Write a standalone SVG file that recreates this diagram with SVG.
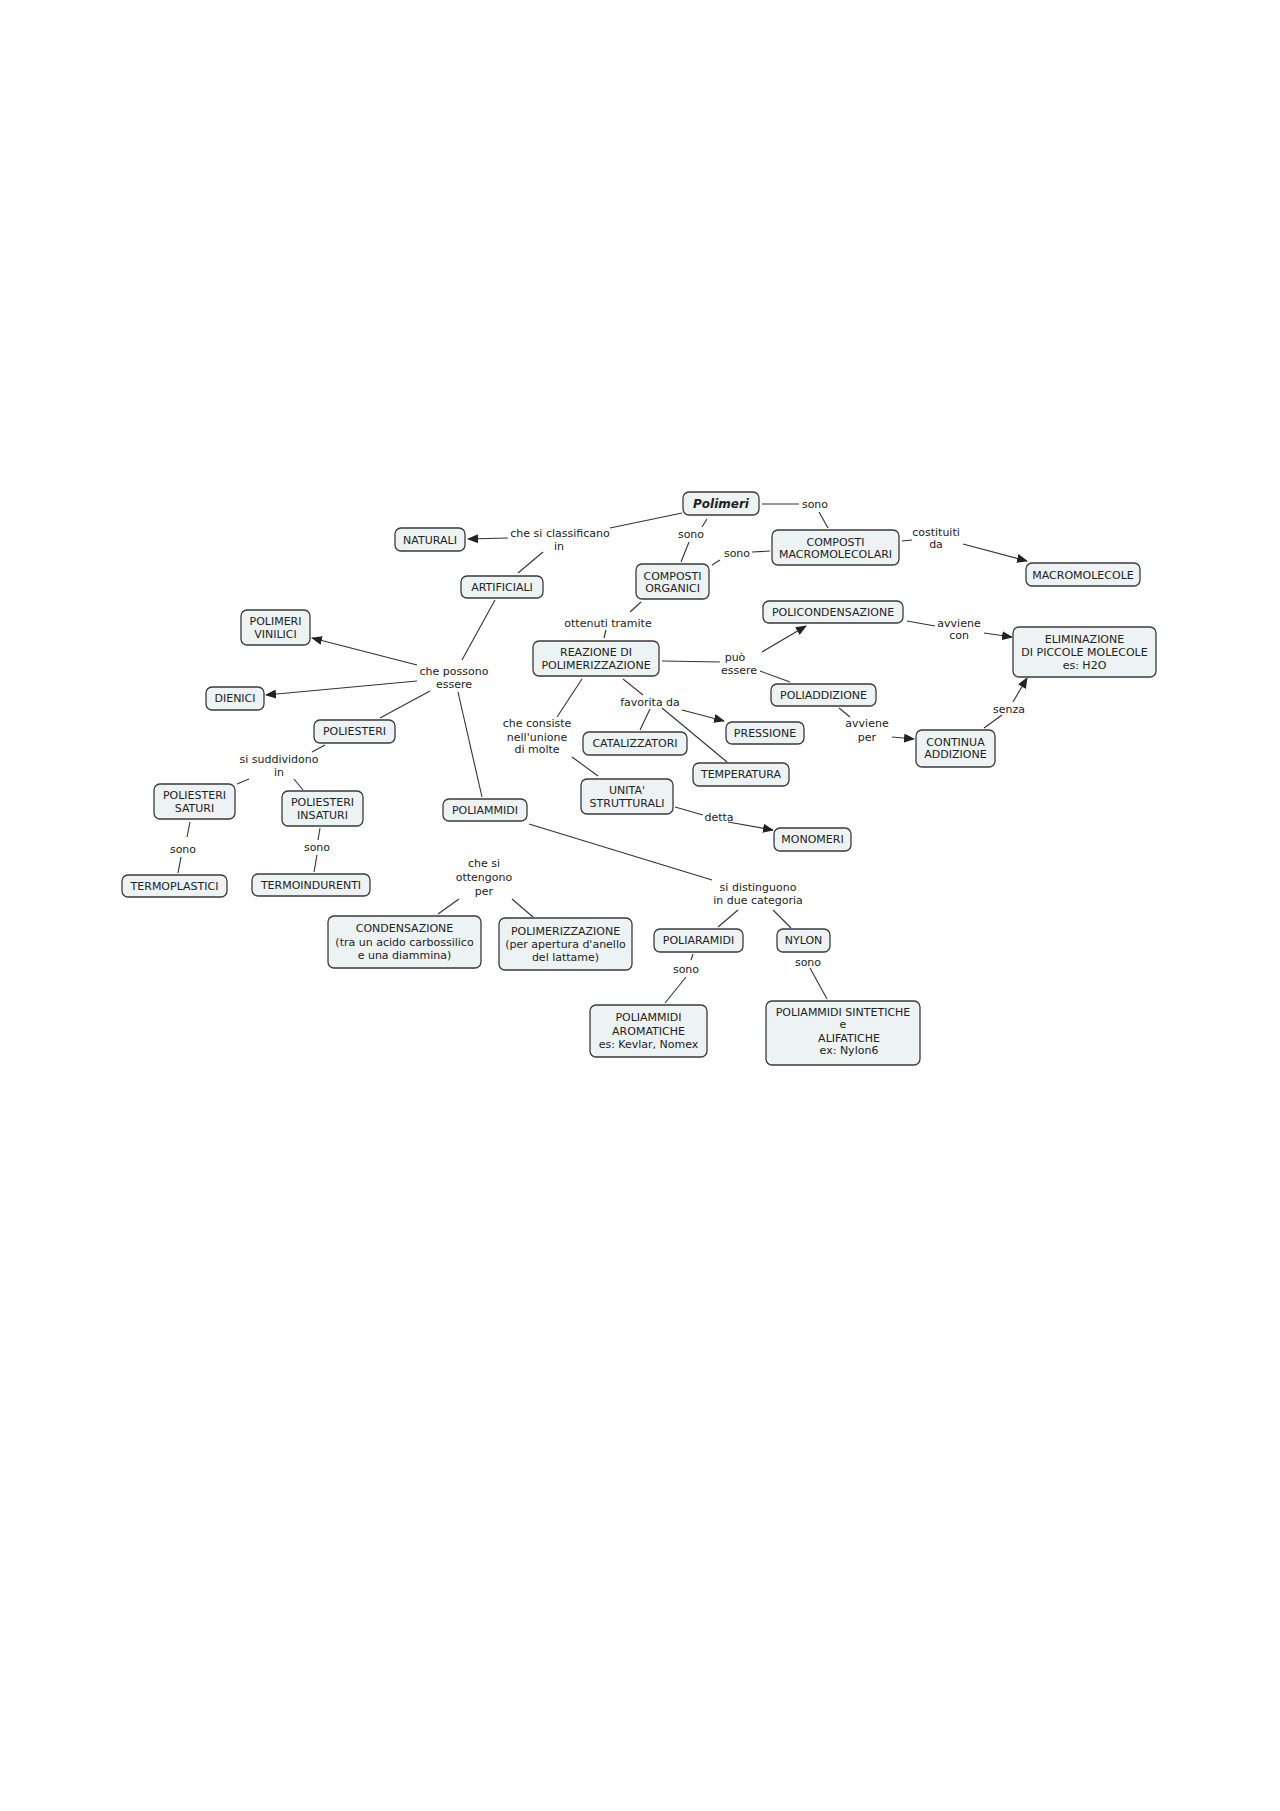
<svg xmlns="http://www.w3.org/2000/svg" width="1280" height="1811" viewBox="0 0 1280 1811">
<style>
.n rect{fill:#edf2f5;stroke:#3a3a3a;stroke-width:1.3}
text{font-family:"DejaVu Sans","Verdana",sans-serif;font-size:11px;fill:#222;text-anchor:middle}
.t{font-size:11px}
.c line{stroke:#333;stroke-width:1.1}
.a{marker-end:url(#ah)}
</style>
<defs>
<marker id="ah" markerUnits="userSpaceOnUse" markerWidth="11" markerHeight="9" refX="10" refY="4.5" orient="auto">
<path d="M0,0 L11,4.5 L0,9 z" fill="#222"/>
</marker>
</defs>
<rect width="1280" height="1811" fill="#fff"/>
<g class="c">
<line x1="762" y1="504" x2="799" y2="504"/>
<line x1="819" y1="512" x2="828" y2="528"/>
<line x1="682" y1="513" x2="610" y2="528"/>
<line class="a" x1="508" y1="538" x2="468" y2="539"/>
<line x1="543" y1="552" x2="518" y2="573"/>
<line x1="707" y1="519" x2="702" y2="527"/>
<line x1="689" y1="542" x2="681" y2="562"/>
<line x1="770" y1="551" x2="752" y2="552"/>
<line x1="720" y1="560" x2="712" y2="565"/>
<line x1="902" y1="541" x2="912" y2="540"/>
<line class="a" x1="963" y1="544" x2="1027" y2="561"/>
<line x1="641" y1="602" x2="630" y2="612"/>
<line x1="606" y1="630" x2="604" y2="638"/>
<line x1="662" y1="661" x2="720" y2="662"/>
<line class="a" x1="762" y1="652" x2="806" y2="626"/>
<line x1="760" y1="671" x2="790" y2="682"/>
<line x1="907" y1="621" x2="935" y2="626"/>
<line class="a" x1="984" y1="633" x2="1012" y2="637"/>
<line x1="839" y1="708" x2="850" y2="717"/>
<line class="a" x1="892" y1="737" x2="914" y2="739"/>
<line x1="984" y1="728" x2="1002" y2="715"/>
<line class="a" x1="1013" y1="702" x2="1027" y2="678"/>
<line x1="623" y1="679" x2="643" y2="695"/>
<line class="a" x1="682" y1="710" x2="724" y2="721"/>
<line x1="650" y1="709" x2="640" y2="730"/>
<line x1="662" y1="708" x2="727" y2="762"/>
<line x1="582" y1="679" x2="557" y2="717"/>
<line x1="572" y1="757" x2="598" y2="776"/>
<line x1="675" y1="807" x2="703" y2="815"/>
<line class="a" x1="728" y1="822" x2="773" y2="830"/>
<line x1="495" y1="600" x2="462" y2="660"/>
<line class="a" x1="417" y1="665" x2="312" y2="638"/>
<line class="a" x1="417" y1="681" x2="266" y2="695"/>
<line x1="430" y1="691" x2="380" y2="718"/>
<line x1="458" y1="692" x2="482" y2="797"/>
<line x1="325" y1="745" x2="312" y2="752"/>
<line x1="249" y1="779" x2="237" y2="784"/>
<line x1="294" y1="779" x2="303" y2="790"/>
<line x1="190" y1="822" x2="187" y2="837"/>
<line x1="181" y1="857" x2="178" y2="873"/>
<line x1="320" y1="828" x2="318" y2="840"/>
<line x1="317" y1="855" x2="314" y2="872"/>
<line x1="529" y1="824" x2="712" y2="880"/>
<line x1="738" y1="910" x2="718" y2="927"/>
<line x1="773" y1="910" x2="791" y2="928"/>
<line x1="459" y1="899" x2="438" y2="914"/>
<line x1="512" y1="899" x2="533" y2="917"/>
<line x1="693" y1="954" x2="691" y2="960"/>
<line x1="686" y1="977" x2="665" y2="1003"/>
<line x1="810" y1="968" x2="827" y2="999"/>
</g>
<g id="labels">
<text x="815" y="508">sono</text>
<text x="560" y="537">che si classificano</text>
<text x="559" y="550">in</text>
<text x="691" y="538">sono</text>
<text x="737" y="557">sono</text>
<text x="936" y="536">costituiti</text>
<text x="936" y="548">da</text>
<text x="608" y="627">ottenuti tramite</text>
<text x="735" y="661">può</text>
<text x="739" y="674">essere</text>
<text x="959" y="627">avviene</text>
<text x="959" y="639">con</text>
<text x="1009" y="713">senza</text>
<text x="650" y="706">favorita da</text>
<text x="537" y="727">che consiste</text>
<text x="537" y="741">nell'unione</text>
<text x="537" y="753">di molte</text>
<text x="867" y="727">avviene</text>
<text x="867" y="741">per</text>
<text x="719" y="821">detta</text>
<text x="454" y="675">che possono</text>
<text x="454" y="688">essere</text>
<text x="279" y="763">si suddividono</text>
<text x="279" y="776">in</text>
<text x="183" y="853">sono</text>
<text x="317" y="851">sono</text>
<text x="484" y="867">che si</text>
<text x="484" y="881">ottengono</text>
<text x="484" y="895">per</text>
<text x="758" y="891">si distinguono</text>
<text x="758" y="904">in due categoria</text>
<text x="686" y="973">sono</text>
<text x="808" y="966">sono</text>
</g>
<g id="polimeri" class="n"><rect x="683" y="492" width="76" height="23" rx="6"/><text x="721" y="508" style="font-weight:bold;font-style:italic;font-size:12px">Polimeri</text></g>
<g id="naturali" class="n"><rect x="395" y="528" width="70" height="23" rx="6"/><text x="430" y="544">NATURALI</text></g>
<g id="artificiali" class="n"><rect x="461" y="576" width="82" height="22" rx="6"/><text x="502" y="591">ARTIFICIALI</text></g>
<g id="composti-organici" class="n"><rect x="636" y="564" width="73" height="35" rx="6"/><text x="672.5" y="580">COMPOSTI</text><text x="672.5" y="592">ORGANICI</text></g>
<g id="composti-macro" class="n"><rect x="772" y="530" width="127" height="35" rx="6"/><text x="835.5" y="546">COMPOSTI</text><text x="835.5" y="558">MACROMOLECOLARI</text></g>
<g id="macromolecole" class="n"><rect x="1026" y="563" width="114" height="23" rx="6"/><text x="1083" y="579">MACROMOLECOLE</text></g>
<g id="policondensazione" class="n"><rect x="763" y="601" width="140" height="22" rx="6"/><text x="833" y="616">POLICONDENSAZIONE</text></g>
<g id="eliminazione" class="n"><rect x="1013" y="627" width="143" height="50" rx="6"/><text x="1084.5" y="643">ELIMINAZIONE</text><text x="1084.5" y="656">DI PICCOLE MOLECOLE</text><text x="1084.5" y="669">es: H2O</text></g>
<g id="reazione" class="n"><rect x="533" y="641" width="126" height="35" rx="6"/><text x="596" y="656">REAZIONE DI</text><text x="596" y="669">POLIMERIZZAZIONE</text></g>
<g id="poliaddizione" class="n"><rect x="771" y="684" width="105" height="22" rx="6"/><text x="823.5" y="699">POLIADDIZIONE</text></g>
<g id="vinilici" class="n"><rect x="241" y="610" width="69" height="35" rx="6"/><text x="275.5" y="625">POLIMERI</text><text x="275.5" y="638">VINILICI</text></g>
<g id="dienici" class="n"><rect x="206" y="687" width="58" height="23" rx="6"/><text x="235" y="702">DIENICI</text></g>
<g id="poliesteri" class="n"><rect x="314" y="720" width="81" height="23" rx="6"/><text x="354.5" y="735">POLIESTERI</text></g>
<g id="saturi" class="n"><rect x="154" y="784" width="81" height="35" rx="6"/><text x="194.5" y="799">POLIESTERI</text><text x="194.5" y="812">SATURI</text></g>
<g id="insaturi" class="n"><rect x="282" y="791" width="81" height="35" rx="6"/><text x="322.5" y="806">POLIESTERI</text><text x="322.5" y="819">INSATURI</text></g>
<g id="termoplastici" class="n"><rect x="122" y="875" width="105" height="22" rx="6"/><text x="174.5" y="890">TERMOPLASTICI</text></g>
<g id="termoindurenti" class="n"><rect x="252" y="874" width="118" height="22" rx="6"/><text x="311" y="889">TERMOINDURENTI</text></g>
<g id="poliammidi" class="n"><rect x="443" y="799" width="84" height="22" rx="6"/><text x="485" y="814">POLIAMMIDI</text></g>
<g id="catalizzatori" class="n"><rect x="583" y="732" width="104" height="23" rx="6"/><text x="635" y="747">CATALIZZATORI</text></g>
<g id="pressione" class="n"><rect x="726" y="722" width="78" height="22" rx="6"/><text x="765" y="737">PRESSIONE</text></g>
<g id="temperatura" class="n"><rect x="693" y="763" width="96" height="23" rx="6"/><text x="741" y="778">TEMPERATURA</text></g>
<g id="unita" class="n"><rect x="581" y="779" width="92" height="35" rx="6"/><text x="627" y="794">UNITA'</text><text x="627" y="807">STRUTTURALI</text></g>
<g id="monomeri" class="n"><rect x="774" y="828" width="77" height="23" rx="6"/><text x="812.5" y="843">MONOMERI</text></g>
<g id="continua" class="n"><rect x="916" y="730" width="79" height="37" rx="6"/><text x="955.5" y="746">CONTINUA</text><text x="955.5" y="758">ADDIZIONE</text></g>
<g id="condensazione" class="n"><rect x="328" y="916" width="153" height="52" rx="6"/><text x="404.5" y="932">CONDENSAZIONE</text><text x="404.5" y="946">(tra un acido carbossilico</text><text x="404.5" y="959">e una diammina)</text></g>
<g id="polimerizzazione" class="n"><rect x="499" y="918" width="133" height="52" rx="6"/><text x="565.5" y="935">POLIMERIZZAZIONE</text><text x="565.5" y="948">(per apertura d'anello</text><text x="565.5" y="961">del lattame)</text></g>
<g id="poliaramidi" class="n"><rect x="654" y="929" width="89" height="23" rx="6"/><text x="698.5" y="944">POLIARAMIDI</text></g>
<g id="nylon" class="n"><rect x="777" y="929" width="53" height="23" rx="6"/><text x="803.5" y="944">NYLON</text></g>
<g id="aromatiche" class="n"><rect x="590" y="1005" width="117" height="52" rx="6"/><text x="648.5" y="1021">POLIAMMIDI</text><text x="648.5" y="1035">AROMATICHE</text><text x="648.5" y="1048">es: Kevlar, Nomex</text></g>
<g id="sintetiche" class="n"><rect x="766" y="1001" width="154" height="64" rx="6"/><text x="843" y="1016">POLIAMMIDI SINTETICHE</text><text x="843" y="1028">e</text><text x="849" y="1042">ALIFATICHE</text><text x="849" y="1054">ex: Nylon6</text></g>
</svg>
